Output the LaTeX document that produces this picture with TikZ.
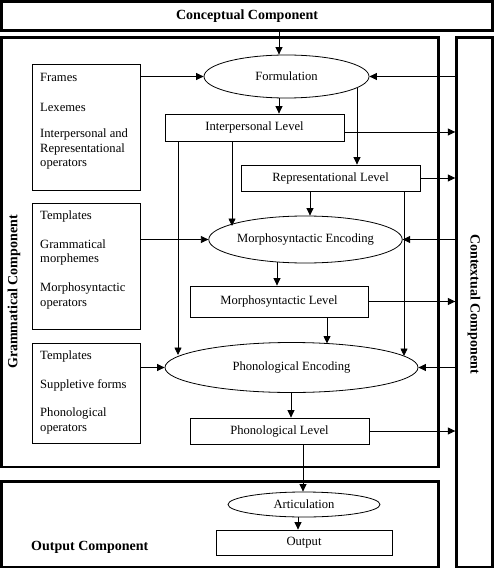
\documentclass[tikz,border=0pt]{standalone}
\usepackage{fontspec}
\setmainfont{Liberation Serif}
\usetikzlibrary{arrows.meta,shapes.geometric}

\begin{document}
\begin{tikzpicture}[x=1pt,y=-1pt,font=\fontsize{12.6}{14.4}\selectfont,
  comp/.style={draw,line width=2.4pt,inner sep=0pt},
  lev/.style={draw,line width=0.8pt,inner sep=0pt},
  oval/.style={draw,ellipse,line width=0.8pt,inner sep=0pt},
  item/.style={anchor=west,align=left,inner sep=0pt},
  big/.style={font=\fontsize{14}{16}\selectfont\bfseries},
  arr/.style={line width=0.8pt,-{Triangle[length=7.5pt,width=7pt]}}]
\useasboundingbox(0,0)rectangle(495,569);
% the four components
\node[comp,big,minimum width=491pt,minimum height=29pt](concept)at(247,16){Conceptual Component};
\node[comp,minimum width=437pt,minimum height=429.5pt](gram)at(220,252.25){};
\node[comp,minimum width=36pt,minimum height=529.5pt](ctx)at(474.5,302.25){};
\node[comp,minimum width=437pt,minimum height=85.5pt](outp)at(220,524.25){};
\node[big,rotate=90](gramlab)at(14,292){Grammatical Component};
\node[big,rotate=-90](ctxlab)at(474,304){Contextual Component};
\node[big,anchor=west,inner sep=0pt](outlab)at(31,547){Output Component};
% primitives
\node[lev,minimum width=108pt,minimum height=126pt](lexbox)at(86,127){};
\node[item](frames)at(40,77){Frames};\node[item](lexemes)at(40,107){Lexemes};
\node[item](ops1)at(40,149){Interpersonal and\\Representational\\operators};
\node[lev,minimum width=108pt,minimum height=126pt](tmpbox)at(86,266){};
\node[item](tmpa)at(40,216){Templates};\node[item](morph)at(40,252.5){Grammatical\\morphemes};
\node[item](ops2)at(40,296){Morphosyntactic\\operators};
\node[lev,minimum width=108pt,minimum height=100pt](phbox)at(86,393){};
\node[item](tmpb)at(40,356){Templates};\node[item](supp)at(40,385){Suppletive forms};
\node[item](ops3)at(40,421){Phonological\\operators};
% operations and levels
\node[oval,minimum width=165pt,minimum height=43pt](form)at(286.5,76.5){Formulation};
\node[lev,minimum width=179pt,minimum height=27pt](il)at(254.5,127.5){Interpersonal Level};
\node[lev,minimum width=179pt,minimum height=26pt](rl)at(330.5,178){Representational Level};
\node[oval,minimum width=177pt,minimum height=47pt](mse)at(305.5,239.5){Morphosyntactic Encoding};
\node[lev,minimum width=178pt,minimum height=31pt](ml)at(279,301.5){Morphosyntactic Level};
\node[oval,minimum width=253pt,minimum height=50pt](pe)at(291.5,367.5){Phonological Encoding};
\node[lev,minimum width=179pt,minimum height=26pt](pl)at(279.5,431){Phonological Level};
\node[oval,minimum width=152pt,minimum height=25pt](art)at(304,504.5){Articulation};
\node[lev,minimum width=176pt,minimum height=25pt](outb)at(304,542.5){Output};
% points on the ovals
\coordinate(f1)at(357,88);\coordinate(m1)at(232,226);\coordinate(m2)at(277,262);
\coordinate(p1)at(178,355);\coordinate(p2)at(404,356);\coordinate(p3)at(327,343.5);
% top-down flow
\draw[arr](concept.south -| 279,0)--(form.north -| 279,0);
\draw[arr](form.south -| 279,0)--(il.north -| 279,0);
\draw[arr](f1)--(rl.north -| f1);
\draw[arr](il.south -| p1)--(p1);\draw[arr](il.south -| m1)--(m1);
\draw[arr](rl.south -| 310,0)--(mse.north -| 310,0);\draw[arr](rl.south -| p2)--(p2);
\draw[arr](m2)--(ml.north -| m2);\draw[arr](ml.south -| p3)--(p3);
\draw[arr](pe.south -| 291,0)--(pl.north -| 291,0);
\draw[arr](pl.south -| 303,0)--(art.north -| 303,0);
\draw[arr](art.south -| 298,0)--(outb.north -| 298,0);
% from the primitives
\draw[arr](lexbox.east |- form)--(form.west);
\draw[arr](tmpbox.east |- mse)--(mse.west);
\draw[arr](phbox.east |- pe)--(pe.west);
% to and from the context
\draw[arr](ctx.west |- form)--(form.east);
\draw[arr](ctx.west |- mse)--(mse.east);
\draw[arr](ctx.west |- pe)--(pe.east);
\draw[arr]([yshift=-4.5pt]il.east)--([yshift=-4.5pt]il.east -| ctx.west);
\draw[arr](rl.east)--(rl.east -| ctx.west);
\draw[arr](ml.east)--(ml.east -| ctx.west);
\draw[arr](pl.east)--(pl.east -| ctx.west);
\end{tikzpicture}
\end{document}
